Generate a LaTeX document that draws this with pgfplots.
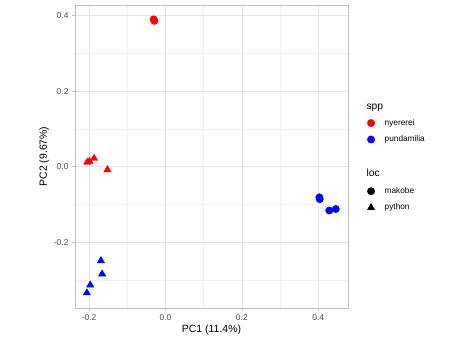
\documentclass[border=0pt]{standalone}
\usepackage{pgfplots}
\pgfplotsset{compat=1.18}
\usepackage{fontspec}
\setmainfont{Liberation Sans}
\definecolor{gridmaj}{gray}{0.89}
\definecolor{gridmin}{gray}{0.94}
\definecolor{border}{gray}{0.75}
\definecolor{ticklab}{gray}{0.30}
\begin{document}
\begin{tikzpicture}[x=1bp,y=1bp]
\useasboundingbox (0,0) rectangle (474,338);
\begin{axis}[
  at={(75bp,30bp)}, anchor=south west,
  scale only axis, width=273bp, height=303bp,
  xmin=-0.237, xmax=0.478, ymin=-0.374, ymax=0.428,
  xtick={-0.2,0,0.2,0.4}, ytick={-0.2,0,0.2,0.4},
  minor xtick={-0.1,0.1,0.3}, minor ytick={-0.3,-0.1,0.1,0.3},
  xticklabels={-0.2,0.0,0.2,0.4}, yticklabels={-0.2,0.0,0.2,0.4},
  grid=both,
  major grid style={gridmaj, line width=0.6bp},
  minor grid style={gridmin, line width=0.4bp},
  axis line style={border, line width=0.8bp},
  tick style={border, line width=0.6bp},
  major tick length=3bp, minor tick length=0pt,
  tick align=outside, xtick pos=bottom, ytick pos=left,
  ticklabel style={font=\fontsize{8.5}{10}\selectfont, text=ticklab},
  /pgf/number format/assume math mode=true,
  xlabel={PC1 (11.4\%)}, ylabel={PC2 (9.67\%)},
  label style={font=\fontsize{10.5}{12}\selectfont},
  xlabel style={yshift=2bp},
  ylabel style={yshift=-2bp},
  clip=false,
  legend style={draw=none, fill=none, at={(1.07,0.63)}, anchor=north west,
    font=\fontsize{8.3}{10}\selectfont, row sep=5bp, column sep=8bp, inner sep=0pt},
  legend cell align=left,
]
% nyererei makobe
\addplot[only marks, mark=*, mark size=3.7bp, color=red, forget plot] coordinates {(-0.031,0.390) (-0.029,0.386)};
% nyererei python
\addplot[only marks, mark=triangle*, mark size=4.2bp, color=red, forget plot] coordinates {(-0.205,0.012) (-0.199,0.014) (-0.187,0.022) (-0.152,-0.008)};
% pundamilia makobe
\addplot[only marks, mark=*, mark size=3.7bp, color=blue, forget plot] coordinates {(0.403,-0.081) (0.404,-0.086) (0.429,-0.116) (0.446,-0.112)};
% pundamilia python
\addplot[only marks, mark=triangle*, mark size=4.2bp, color=blue, forget plot] coordinates {(-0.169,-0.249) (-0.166,-0.284) (-0.197,-0.313) (-0.206,-0.334)};
\addlegendimage{only marks, mark=*, mark size=3.7bp, color=red}
\addlegendentry{nyererei}
\addlegendimage{only marks, mark=*, mark size=3.7bp, color=blue}
\addlegendentry{pundamilia}
\node[anchor=base west, font=\fontsize{10.3}{12}\selectfont] at (rel axis cs:1.055,0.655) {spp};
\end{axis}
\begin{axis}[
  at={(75bp,30bp)}, anchor=south west,
  scale only axis, width=273bp, height=303bp,
  hide axis, xmin=0, xmax=1, ymin=0, ymax=1,
  legend style={draw=none, fill=none, at={(1.07,0.405)}, anchor=north west,
    font=\fontsize{8.3}{10}\selectfont, row sep=5bp, column sep=8bp, inner sep=0pt},
  legend cell align=left, clip=false,
]
\addlegendimage{only marks, mark=*, mark size=3.7bp, color=black}
\addlegendentry{makobe}
\addlegendimage{only marks, mark=triangle*, mark size=4.2bp, color=black}
\addlegendentry{python}
\node[anchor=base west, font=\fontsize{10.3}{12}\selectfont] at (rel axis cs:1.055,0.435) {loc};
\end{axis}
\end{tikzpicture}
\end{document}
